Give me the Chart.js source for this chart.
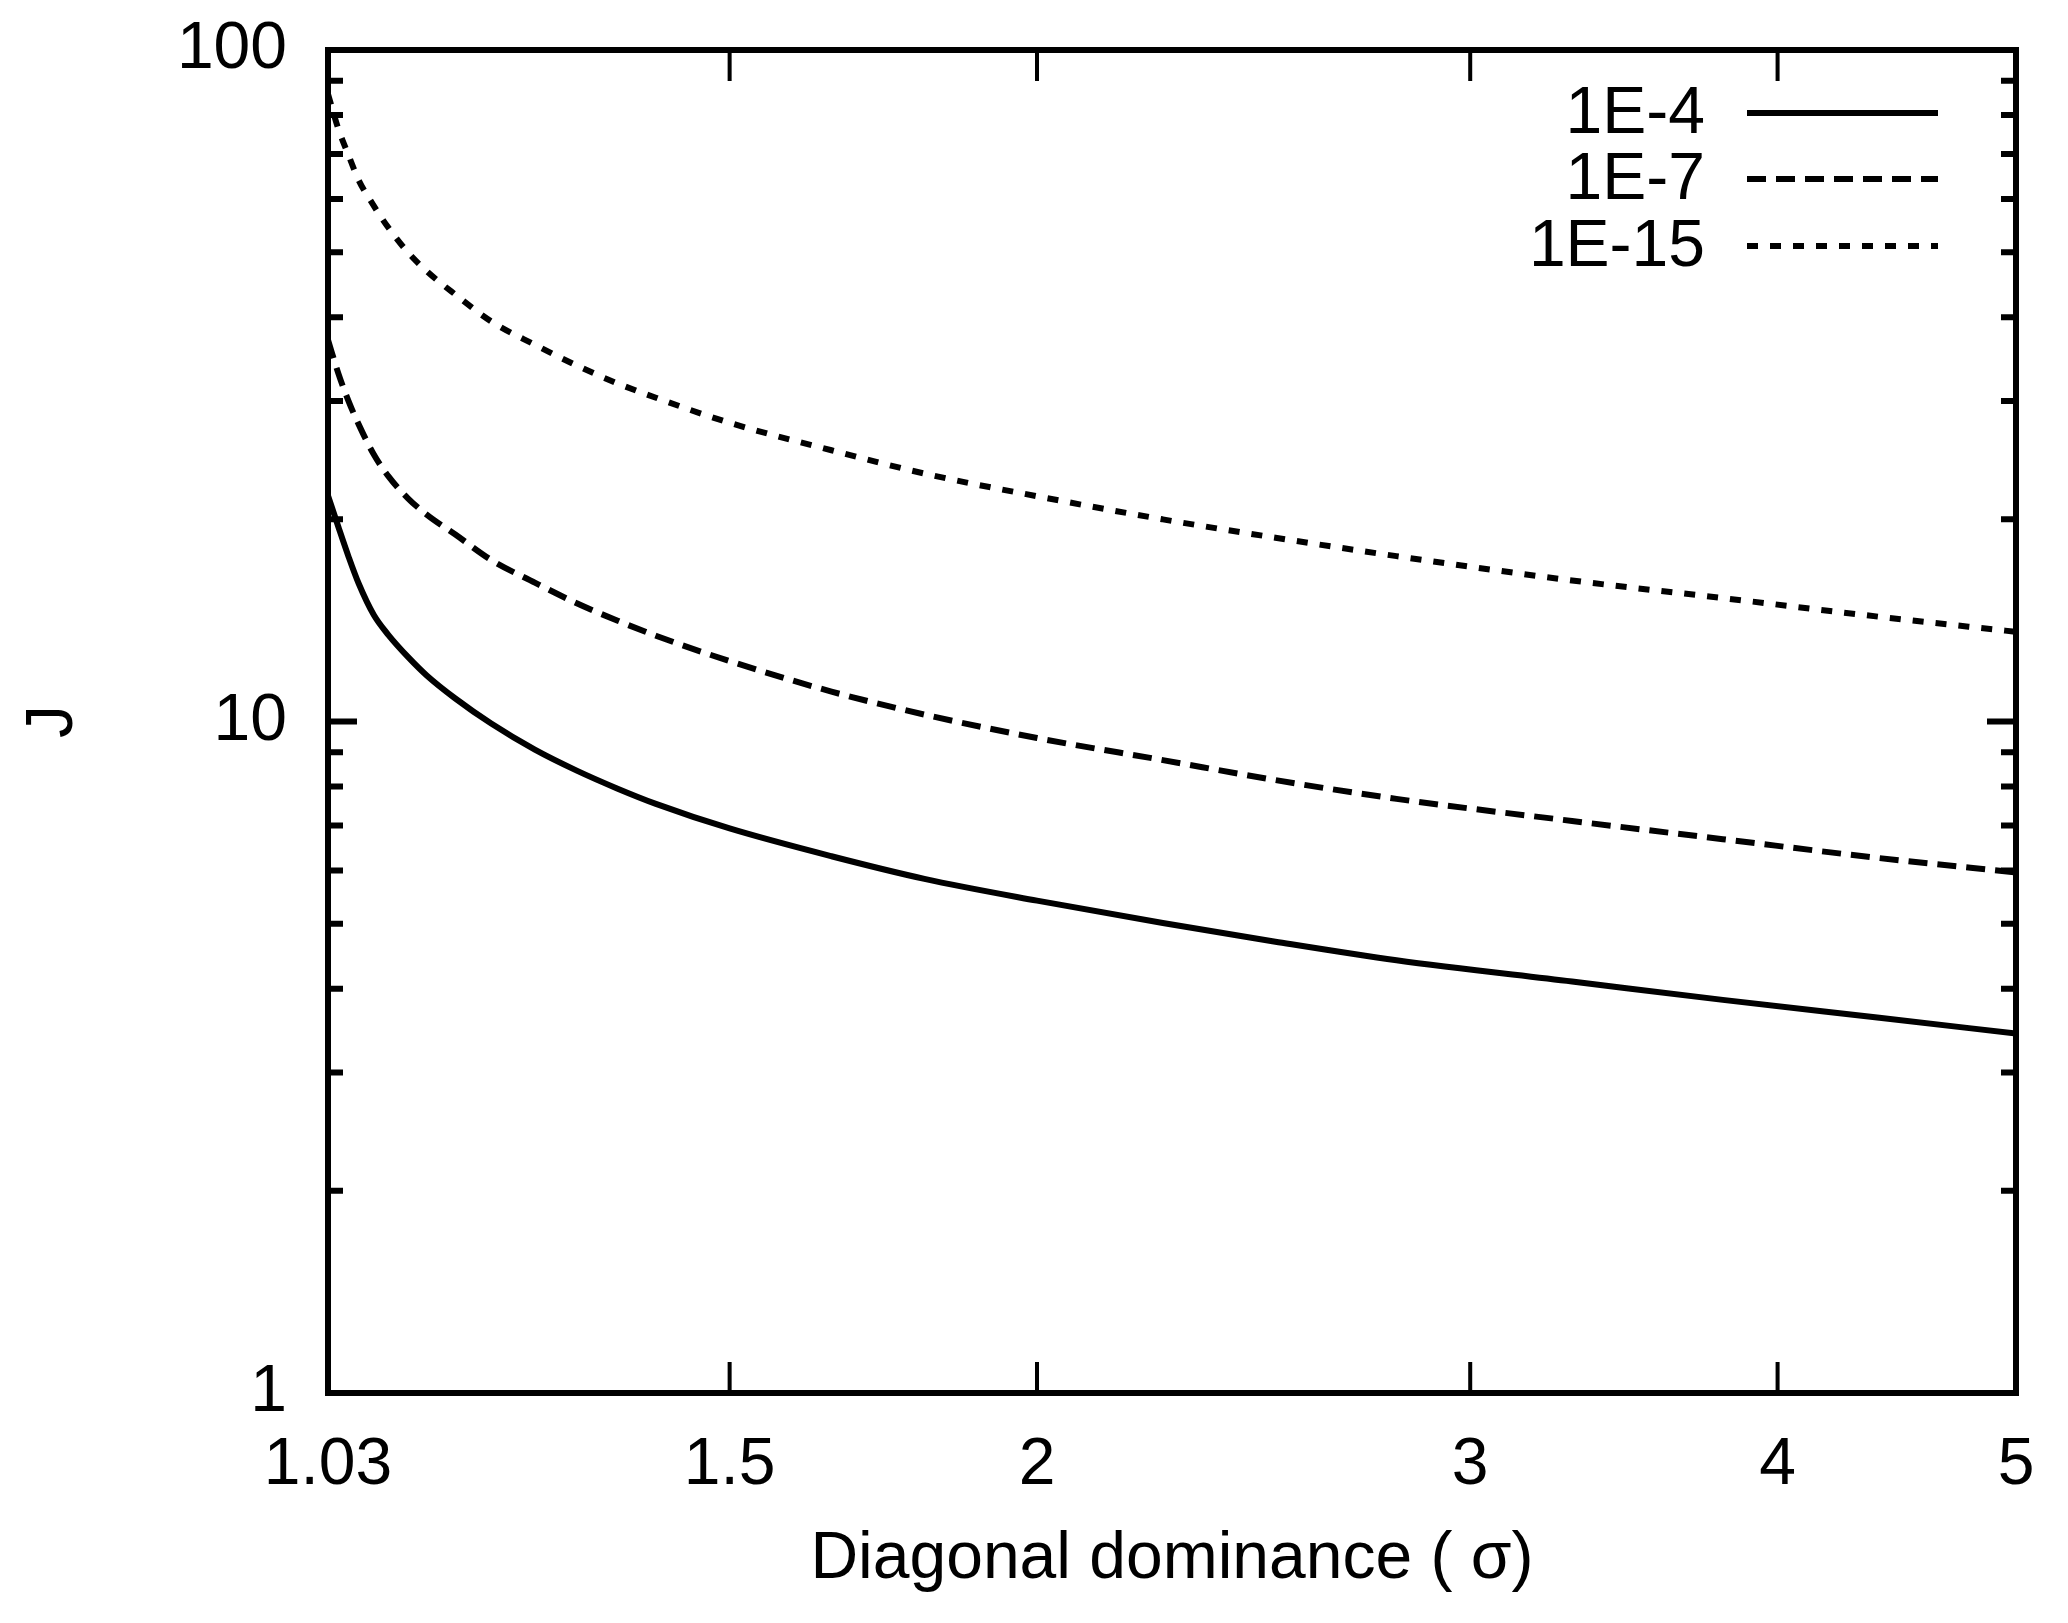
<!DOCTYPE html>
<html>
<head>
<meta charset="utf-8">
<script src="https://cdn.jsdelivr.net/npm/chart.js@4.4.1/dist/chart.umd.min.js"></script>
<style>
  html, body { margin: 0; padding: 0; background: #fff; }
  canvas { display: block; }
</style>
</head>
<body>
<canvas id="chart" width="2068" height="1623" style="width:2068px;height:1623px"></canvas>
<script>
// values (log-log)
const sigma = [1.03, 1.04, 1.05, 1.06, 1.075, 1.09, 1.11, 1.13, 1.16, 1.2, 1.25, 1.3, 1.35, 1.4, 1.5, 1.65, 1.8, 2, 2.25, 2.5, 2.8, 3.3, 3.8, 4.4, 5];
const j1e4 = [21.7, 19.5, 17.6, 16.05, 14.42, 13.45, 12.48, 11.7, 10.83, 9.93, 9.08, 8.45, 7.95, 7.54, 6.93, 6.30, 5.83, 5.41, 5.01, 4.70, 4.41, 4.10, 3.85, 3.62, 3.43];
const j1e7 = [37.0, 33.0, 30.0, 27.7, 25.0, 23.18, 21.5, 20.31, 19.0, 17.4, 16.1, 15.0, 14.14, 13.42, 12.3, 11.08, 10.24, 9.45, 8.76, 8.18, 7.67, 7.11, 6.68, 6.26, 5.96];
const j1e15 = [86.0, 76.3, 69.7, 64.0, 58.65, 54.35, 49.96, 46.8, 43.27, 39.43, 36.4, 33.9, 31.9, 30.35, 27.85, 25.35, 23.4, 21.65, 20.0, 18.78, 17.63, 16.22, 15.27, 14.32, 13.6];
const seriesLabels = ['1E-4', '1E-7', '1E-15'];
const xTickValues = [1.03, 1.5, 2, 3, 4, 5];
const yTickValues = [1, 2, 3, 4, 5, 6, 7, 8, 9, 10, 20, 30, 40, 50, 60, 70, 80, 90, 100];
const yMajorTicks = [1, 10, 100];

const FONT = "'Liberation Sans', Arial, Helvetica, sans-serif";
Chart.defaults.font.family = FONT;
Chart.defaults.font.size = 66;
Chart.defaults.color = '#000';

function points(ys) {
    return sigma.map((s, i) => ({ x: s, y: ys[i] }));
}

// gnuplot style frame with inward ticks on all four sides
const framePlugin = {
    id: 'frame',
    afterDraw(chart) {
        const ctx = chart.ctx;
        const a = chart.chartArea;
        const xs = chart.scales.x;
        const ys = chart.scales.y;
        ctx.save();
        ctx.strokeStyle = '#000';
        ctx.lineCap = 'butt';

        ctx.lineWidth = 4;
        xs.ticks.forEach(t => {
            const px = xs.getPixelForValue(t.value);
            ctx.beginPath();
            ctx.moveTo(px, a.bottom);
            ctx.lineTo(px, a.bottom - 31);
            ctx.moveTo(px, a.top);
            ctx.lineTo(px, a.top + 31);
            ctx.stroke();
        });

        ctx.lineWidth = 6;
        ys.ticks.forEach(t => {
            const py = ys.getPixelForValue(t.value);
            const len = yMajorTicks.includes(t.value) ? 29 : 15;
            ctx.beginPath();
            ctx.moveTo(a.left, py);
            ctx.lineTo(a.left + len, py);
            ctx.moveTo(a.right, py);
            ctx.lineTo(a.right - len, py);
            ctx.stroke();
        });

        ctx.lineWidth = 6;
        ctx.strokeRect(a.left, a.top, a.right - a.left, a.bottom - a.top);
        ctx.restore();
    }
};

// key in the top right corner: label first, then the line sample
const keyPlugin = {
    id: 'key',
    afterDraw(chart) {
        const ctx = chart.ctx;
        const rows = [113, 179, 246];
        ctx.save();
        ctx.font = '66px ' + FONT;
        ctx.fillStyle = '#000';
        ctx.textAlign = 'right';
        ctx.textBaseline = 'middle';
        chart.data.datasets.forEach((ds, i) => {
            const y = rows[i];
            ctx.fillText(ds.label, 1705, y + 2);
            ctx.beginPath();
            ctx.setLineDash(ds.borderDash || []);
            ctx.lineWidth = ds.borderWidth;
            ctx.strokeStyle = ds.borderColor;
            ctx.moveTo(1747, y);
            ctx.lineTo(1938, y);
            ctx.stroke();
        });
        ctx.restore();
    }
};

const lineStyles = [[], [19, 10], [11, 12]];
const seriesValues = [j1e4, j1e7, j1e15];

function noPad(axis) {
    axis.paddingTop = 0;
    axis.paddingBottom = 0;
    axis.paddingLeft = 0;
    axis.paddingRight = 0;
}

new Chart(document.getElementById('chart'), {
    type: 'line',
    data: {
        datasets: seriesValues.map((vals, i) => ({
            label: seriesLabels[i],
            data: points(vals),
            borderColor: '#000',
            borderWidth: 6,
            borderDash: lineStyles[i],
            borderCapStyle: 'butt',
            pointRadius: 0,
            fill: false,
            cubicInterpolationMode: 'monotone'
        }))
    },
    options: {
        responsive: false,
        animation: false,
        devicePixelRatio: 1,
        layout: { padding: { top: 50, right: 52, left: 0, bottom: 0 } },
        plugins: {
            legend: { display: false },
            tooltip: { enabled: false }
        },
        scales: {
            x: {
                type: 'logarithmic',
                min: 1.03,
                max: 5,
                grid: { display: false, drawTicks: false },
                border: { display: false },
                afterBuildTicks: axis => {
                    axis.ticks = xTickValues.map(v => ({ value: v }));
                },
                afterFit: axis => { axis.height = 230; noPad(axis); },
                ticks: {
                    autoSkip: false,
                    maxRotation: 0,
                    padding: 33,
                    callback: v => String(v)
                },
                title: {
                    display: true,
                    text: 'Diagonal dominance ( σ)',
                    padding: { top: 0, bottom: 24 }
                }
            },
            y: {
                type: 'logarithmic',
                min: 1,
                max: 100,
                grid: { display: false, drawTicks: false },
                border: { display: false },
                afterBuildTicks: axis => {
                    axis.ticks = yTickValues.map(v => ({ value: v, major: yMajorTicks.includes(v) }));
                },
                afterFit: axis => { axis.width = 328; noPad(axis); },
                ticks: {
                    autoSkip: false,
                    padding: 41,
                    callback: v => yMajorTicks.includes(v) ? String(v) : ''
                },
                title: {
                    display: true,
                    text: 'J',
                    padding: { top: 14, bottom: 0 }
                }
            }
        }
    },
    plugins: [framePlugin, keyPlugin]
});
</script>
</body>
</html>
